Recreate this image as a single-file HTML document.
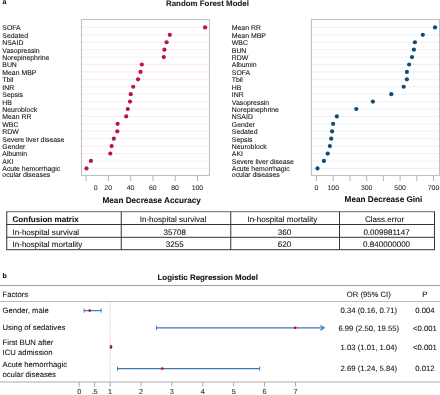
<!DOCTYPE html>
<html><head><meta charset="utf-8"><style>
html,body{margin:0;padding:0;background:#fff;}
body{width:440px;height:395px;overflow:hidden;}
svg{display:block;font-family:"Liberation Sans", sans-serif;text-rendering:geometricPrecision;filter:blur(0.3px);}
</style></head><body>
<svg width="440" height="395" viewBox="0 0 440 395">
<rect width="440" height="395" fill="#fff"/>
<text x="2.5" y="4.0" font-size="7" font-weight="700" text-anchor="start" fill="#111" stroke="#111" stroke-width="0.08">a</text>
<text x="166" y="5.8" font-size="7.9" font-weight="700" text-anchor="start" fill="#222" stroke="#222" stroke-width="0.08">Random Forest Model</text>
<line x1="82.5" y1="27.4" x2="208.5" y2="27.4" stroke="#f5dfe4" stroke-width="0.8" stroke-dasharray="3 1"/>
<line x1="82.5" y1="34.82" x2="208.5" y2="34.82" stroke="#f5dfe4" stroke-width="0.8" stroke-dasharray="3 1"/>
<line x1="82.5" y1="42.24" x2="208.5" y2="42.24" stroke="#f5dfe4" stroke-width="0.8" stroke-dasharray="3 1"/>
<line x1="82.5" y1="49.66" x2="208.5" y2="49.66" stroke="#f5dfe4" stroke-width="0.8" stroke-dasharray="3 1"/>
<line x1="82.5" y1="57.08" x2="208.5" y2="57.08" stroke="#f5dfe4" stroke-width="0.8" stroke-dasharray="3 1"/>
<line x1="82.5" y1="64.5" x2="208.5" y2="64.5" stroke="#f5dfe4" stroke-width="0.8" stroke-dasharray="3 1"/>
<line x1="82.5" y1="71.92" x2="208.5" y2="71.92" stroke="#f5dfe4" stroke-width="0.8" stroke-dasharray="3 1"/>
<line x1="82.5" y1="79.34" x2="208.5" y2="79.34" stroke="#f5dfe4" stroke-width="0.8" stroke-dasharray="3 1"/>
<line x1="82.5" y1="86.76" x2="208.5" y2="86.76" stroke="#f5dfe4" stroke-width="0.8" stroke-dasharray="3 1"/>
<line x1="82.5" y1="94.18" x2="208.5" y2="94.18" stroke="#f5dfe4" stroke-width="0.8" stroke-dasharray="3 1"/>
<line x1="82.5" y1="101.6" x2="208.5" y2="101.6" stroke="#f5dfe4" stroke-width="0.8" stroke-dasharray="3 1"/>
<line x1="82.5" y1="109.02" x2="208.5" y2="109.02" stroke="#f5dfe4" stroke-width="0.8" stroke-dasharray="3 1"/>
<line x1="82.5" y1="116.44" x2="208.5" y2="116.44" stroke="#f5dfe4" stroke-width="0.8" stroke-dasharray="3 1"/>
<line x1="82.5" y1="123.86" x2="208.5" y2="123.86" stroke="#f5dfe4" stroke-width="0.8" stroke-dasharray="3 1"/>
<line x1="82.5" y1="131.28" x2="208.5" y2="131.28" stroke="#f5dfe4" stroke-width="0.8" stroke-dasharray="3 1"/>
<line x1="82.5" y1="138.7" x2="208.5" y2="138.7" stroke="#f5dfe4" stroke-width="0.8" stroke-dasharray="3 1"/>
<line x1="82.5" y1="146.12" x2="208.5" y2="146.12" stroke="#f5dfe4" stroke-width="0.8" stroke-dasharray="3 1"/>
<line x1="82.5" y1="153.54" x2="208.5" y2="153.54" stroke="#f5dfe4" stroke-width="0.8" stroke-dasharray="3 1"/>
<line x1="82.5" y1="160.96" x2="208.5" y2="160.96" stroke="#f5dfe4" stroke-width="0.8" stroke-dasharray="3 1"/>
<line x1="82.5" y1="168.38" x2="208.5" y2="168.38" stroke="#f5dfe4" stroke-width="0.8" stroke-dasharray="3 1"/>
<rect x="81.5" y="19.5" width="128.0" height="156.0" fill="none" stroke="#c2c2c2" stroke-width="1.15"/>
<text x="2.3" y="30.3" font-size="6.9" font-weight="400" text-anchor="start" fill="#111" stroke="#111" stroke-width="0.08">SOFA</text>
<text x="2.3" y="37.72" font-size="6.9" font-weight="400" text-anchor="start" fill="#111" stroke="#111" stroke-width="0.08">Sedated</text>
<text x="2.3" y="45.14" font-size="6.9" font-weight="400" text-anchor="start" fill="#111" stroke="#111" stroke-width="0.08">NSAID</text>
<text x="2.3" y="52.56" font-size="6.9" font-weight="400" text-anchor="start" fill="#111" stroke="#111" stroke-width="0.08">Vasopressin</text>
<text x="2.3" y="59.98" font-size="6.9" font-weight="400" text-anchor="start" fill="#111" stroke="#111" stroke-width="0.08">Norepinephrine</text>
<text x="2.3" y="67.4" font-size="6.9" font-weight="400" text-anchor="start" fill="#111" stroke="#111" stroke-width="0.08">BUN</text>
<text x="2.3" y="74.82" font-size="6.9" font-weight="400" text-anchor="start" fill="#111" stroke="#111" stroke-width="0.08">Mean MBP</text>
<text x="2.3" y="82.24" font-size="6.9" font-weight="400" text-anchor="start" fill="#111" stroke="#111" stroke-width="0.08">Tbil</text>
<text x="2.3" y="89.66" font-size="6.9" font-weight="400" text-anchor="start" fill="#111" stroke="#111" stroke-width="0.08">INR</text>
<text x="2.3" y="97.08" font-size="6.9" font-weight="400" text-anchor="start" fill="#111" stroke="#111" stroke-width="0.08">Sepsis</text>
<text x="2.3" y="104.5" font-size="6.9" font-weight="400" text-anchor="start" fill="#111" stroke="#111" stroke-width="0.08">HB</text>
<text x="2.3" y="111.92" font-size="6.9" font-weight="400" text-anchor="start" fill="#111" stroke="#111" stroke-width="0.08">Neuroblock</text>
<text x="2.3" y="119.34" font-size="6.9" font-weight="400" text-anchor="start" fill="#111" stroke="#111" stroke-width="0.08">Mean RR</text>
<text x="2.3" y="126.76" font-size="6.9" font-weight="400" text-anchor="start" fill="#111" stroke="#111" stroke-width="0.08">WBC</text>
<text x="2.3" y="134.18" font-size="6.9" font-weight="400" text-anchor="start" fill="#111" stroke="#111" stroke-width="0.08">RDW</text>
<text x="2.3" y="141.6" font-size="6.9" font-weight="400" text-anchor="start" fill="#111" stroke="#111" stroke-width="0.08">Severe liver disease</text>
<text x="2.3" y="149.02" font-size="6.9" font-weight="400" text-anchor="start" fill="#111" stroke="#111" stroke-width="0.08">Gender</text>
<text x="2.3" y="156.44" font-size="6.9" font-weight="400" text-anchor="start" fill="#111" stroke="#111" stroke-width="0.08">Albumin</text>
<text x="2.3" y="163.86" font-size="6.9" font-weight="400" text-anchor="start" fill="#111" stroke="#111" stroke-width="0.08">AKI</text>
<text x="2.3" y="171.48" font-size="6.9" font-weight="400" text-anchor="start" fill="#111" stroke="#111" stroke-width="0.08">Acute hemorrhagic</text>
<text x="2.3" y="177.08" font-size="6.9" font-weight="400" text-anchor="start" fill="#111" stroke="#111" stroke-width="0.08">ocular diseases</text>
<circle cx="205.1" cy="27.4" r="2.1" fill="#b8163c"/>
<circle cx="169.8" cy="34.82" r="2.1" fill="#b8163c"/>
<circle cx="166.6" cy="42.24" r="2.1" fill="#b8163c"/>
<circle cx="164.4" cy="49.66" r="2.1" fill="#b8163c"/>
<circle cx="163.8" cy="57.08" r="2.1" fill="#b8163c"/>
<circle cx="141.8" cy="64.5" r="2.1" fill="#b8163c"/>
<circle cx="140.5" cy="71.92" r="2.1" fill="#b8163c"/>
<circle cx="138.0" cy="79.34" r="2.1" fill="#b8163c"/>
<circle cx="133.2" cy="86.76" r="2.1" fill="#b8163c"/>
<circle cx="130.7" cy="94.18" r="2.1" fill="#b8163c"/>
<circle cx="130.0" cy="101.6" r="2.1" fill="#b8163c"/>
<circle cx="127.8" cy="109.02" r="2.1" fill="#b8163c"/>
<circle cx="126.2" cy="116.44" r="2.1" fill="#b8163c"/>
<circle cx="117.6" cy="123.86" r="2.1" fill="#b8163c"/>
<circle cx="117.3" cy="131.28" r="2.1" fill="#b8163c"/>
<circle cx="113.8" cy="138.7" r="2.1" fill="#b8163c"/>
<circle cx="111.6" cy="146.12" r="2.1" fill="#b8163c"/>
<circle cx="110.3" cy="153.54" r="2.1" fill="#b8163c"/>
<circle cx="90.9" cy="160.96" r="2.1" fill="#b8163c"/>
<circle cx="86.5" cy="168.38" r="2.1" fill="#b8163c"/>
<line x1="312.5" y1="27.4" x2="438.5" y2="27.4" stroke="#dfe7ed" stroke-width="0.8" stroke-dasharray="3 1"/>
<line x1="312.5" y1="34.82" x2="438.5" y2="34.82" stroke="#dfe7ed" stroke-width="0.8" stroke-dasharray="3 1"/>
<line x1="312.5" y1="42.24" x2="438.5" y2="42.24" stroke="#dfe7ed" stroke-width="0.8" stroke-dasharray="3 1"/>
<line x1="312.5" y1="49.66" x2="438.5" y2="49.66" stroke="#dfe7ed" stroke-width="0.8" stroke-dasharray="3 1"/>
<line x1="312.5" y1="57.08" x2="438.5" y2="57.08" stroke="#dfe7ed" stroke-width="0.8" stroke-dasharray="3 1"/>
<line x1="312.5" y1="64.5" x2="438.5" y2="64.5" stroke="#dfe7ed" stroke-width="0.8" stroke-dasharray="3 1"/>
<line x1="312.5" y1="71.92" x2="438.5" y2="71.92" stroke="#dfe7ed" stroke-width="0.8" stroke-dasharray="3 1"/>
<line x1="312.5" y1="79.34" x2="438.5" y2="79.34" stroke="#dfe7ed" stroke-width="0.8" stroke-dasharray="3 1"/>
<line x1="312.5" y1="86.76" x2="438.5" y2="86.76" stroke="#dfe7ed" stroke-width="0.8" stroke-dasharray="3 1"/>
<line x1="312.5" y1="94.18" x2="438.5" y2="94.18" stroke="#dfe7ed" stroke-width="0.8" stroke-dasharray="3 1"/>
<line x1="312.5" y1="101.6" x2="438.5" y2="101.6" stroke="#dfe7ed" stroke-width="0.8" stroke-dasharray="3 1"/>
<line x1="312.5" y1="109.02" x2="438.5" y2="109.02" stroke="#dfe7ed" stroke-width="0.8" stroke-dasharray="3 1"/>
<line x1="312.5" y1="116.44" x2="438.5" y2="116.44" stroke="#dfe7ed" stroke-width="0.8" stroke-dasharray="3 1"/>
<line x1="312.5" y1="123.86" x2="438.5" y2="123.86" stroke="#dfe7ed" stroke-width="0.8" stroke-dasharray="3 1"/>
<line x1="312.5" y1="131.28" x2="438.5" y2="131.28" stroke="#dfe7ed" stroke-width="0.8" stroke-dasharray="3 1"/>
<line x1="312.5" y1="138.7" x2="438.5" y2="138.7" stroke="#dfe7ed" stroke-width="0.8" stroke-dasharray="3 1"/>
<line x1="312.5" y1="146.12" x2="438.5" y2="146.12" stroke="#dfe7ed" stroke-width="0.8" stroke-dasharray="3 1"/>
<line x1="312.5" y1="153.54" x2="438.5" y2="153.54" stroke="#dfe7ed" stroke-width="0.8" stroke-dasharray="3 1"/>
<line x1="312.5" y1="160.96" x2="438.5" y2="160.96" stroke="#dfe7ed" stroke-width="0.8" stroke-dasharray="3 1"/>
<line x1="312.5" y1="168.38" x2="438.5" y2="168.38" stroke="#dfe7ed" stroke-width="0.8" stroke-dasharray="3 1"/>
<rect x="311.5" y="19.5" width="128.0" height="156.0" fill="none" stroke="#c2c2c2" stroke-width="1.15"/>
<text x="231.8" y="30.3" font-size="6.9" font-weight="400" text-anchor="start" fill="#111" stroke="#111" stroke-width="0.08">Mean RR</text>
<text x="231.8" y="37.72" font-size="6.9" font-weight="400" text-anchor="start" fill="#111" stroke="#111" stroke-width="0.08">Mean MBP</text>
<text x="231.8" y="45.14" font-size="6.9" font-weight="400" text-anchor="start" fill="#111" stroke="#111" stroke-width="0.08">WBC</text>
<text x="231.8" y="52.56" font-size="6.9" font-weight="400" text-anchor="start" fill="#111" stroke="#111" stroke-width="0.08">BUN</text>
<text x="231.8" y="59.98" font-size="6.9" font-weight="400" text-anchor="start" fill="#111" stroke="#111" stroke-width="0.08">RDW</text>
<text x="231.8" y="67.4" font-size="6.9" font-weight="400" text-anchor="start" fill="#111" stroke="#111" stroke-width="0.08">Albumin</text>
<text x="231.8" y="74.82" font-size="6.9" font-weight="400" text-anchor="start" fill="#111" stroke="#111" stroke-width="0.08">SOFA</text>
<text x="231.8" y="82.24" font-size="6.9" font-weight="400" text-anchor="start" fill="#111" stroke="#111" stroke-width="0.08">Tbil</text>
<text x="231.8" y="89.66" font-size="6.9" font-weight="400" text-anchor="start" fill="#111" stroke="#111" stroke-width="0.08">HB</text>
<text x="231.8" y="97.08" font-size="6.9" font-weight="400" text-anchor="start" fill="#111" stroke="#111" stroke-width="0.08">INR</text>
<text x="231.8" y="104.5" font-size="6.9" font-weight="400" text-anchor="start" fill="#111" stroke="#111" stroke-width="0.08">Vasopressin</text>
<text x="231.8" y="111.92" font-size="6.9" font-weight="400" text-anchor="start" fill="#111" stroke="#111" stroke-width="0.08">Norepinephrine</text>
<text x="231.8" y="119.34" font-size="6.9" font-weight="400" text-anchor="start" fill="#111" stroke="#111" stroke-width="0.08">NSAID</text>
<text x="231.8" y="126.76" font-size="6.9" font-weight="400" text-anchor="start" fill="#111" stroke="#111" stroke-width="0.08">Gender</text>
<text x="231.8" y="134.18" font-size="6.9" font-weight="400" text-anchor="start" fill="#111" stroke="#111" stroke-width="0.08">Sedated</text>
<text x="231.8" y="141.6" font-size="6.9" font-weight="400" text-anchor="start" fill="#111" stroke="#111" stroke-width="0.08">Sepsis</text>
<text x="231.8" y="149.02" font-size="6.9" font-weight="400" text-anchor="start" fill="#111" stroke="#111" stroke-width="0.08">Neuroblock</text>
<text x="231.8" y="156.44" font-size="6.9" font-weight="400" text-anchor="start" fill="#111" stroke="#111" stroke-width="0.08">AKI</text>
<text x="231.8" y="163.86" font-size="6.9" font-weight="400" text-anchor="start" fill="#111" stroke="#111" stroke-width="0.08">Severe liver disease</text>
<text x="231.8" y="171.48" font-size="6.9" font-weight="400" text-anchor="start" fill="#111" stroke="#111" stroke-width="0.08">Acute hemorrhagic</text>
<text x="231.8" y="177.08" font-size="6.9" font-weight="400" text-anchor="start" fill="#111" stroke="#111" stroke-width="0.08">ocular diseases</text>
<circle cx="435.0" cy="27.4" r="2.1" fill="#0f4c72"/>
<circle cx="422.8" cy="34.82" r="2.1" fill="#0f4c72"/>
<circle cx="414.9" cy="42.24" r="2.1" fill="#0f4c72"/>
<circle cx="413.9" cy="49.66" r="2.1" fill="#0f4c72"/>
<circle cx="412.0" cy="57.08" r="2.1" fill="#0f4c72"/>
<circle cx="409.1" cy="64.5" r="2.1" fill="#0f4c72"/>
<circle cx="406.9" cy="71.92" r="2.1" fill="#0f4c72"/>
<circle cx="406.9" cy="79.34" r="2.1" fill="#0f4c72"/>
<circle cx="403.7" cy="86.76" r="2.1" fill="#0f4c72"/>
<circle cx="391.3" cy="94.18" r="2.1" fill="#0f4c72"/>
<circle cx="372.9" cy="101.6" r="2.1" fill="#0f4c72"/>
<circle cx="356.3" cy="109.02" r="2.1" fill="#0f4c72"/>
<circle cx="336.9" cy="116.44" r="2.1" fill="#0f4c72"/>
<circle cx="333.1" cy="123.86" r="2.1" fill="#0f4c72"/>
<circle cx="332.1" cy="131.28" r="2.1" fill="#0f4c72"/>
<circle cx="331.2" cy="138.7" r="2.1" fill="#0f4c72"/>
<circle cx="329.9" cy="146.12" r="2.1" fill="#0f4c72"/>
<circle cx="327.7" cy="153.54" r="2.1" fill="#0f4c72"/>
<circle cx="323.9" cy="160.96" r="2.1" fill="#0f4c72"/>
<circle cx="317.5" cy="168.38" r="2.1" fill="#0f4c72"/>
<line x1="86.1" y1="176" x2="86.1" y2="181" stroke="#b4b4b4" stroke-width="1" />
<line x1="108.4" y1="176" x2="108.4" y2="181" stroke="#b4b4b4" stroke-width="1" />
<line x1="130.7" y1="176" x2="130.7" y2="181" stroke="#b4b4b4" stroke-width="1" />
<line x1="153.0" y1="176" x2="153.0" y2="181" stroke="#b4b4b4" stroke-width="1" />
<line x1="175.3" y1="176" x2="175.3" y2="181" stroke="#b4b4b4" stroke-width="1" />
<line x1="197.6" y1="176" x2="197.6" y2="181" stroke="#b4b4b4" stroke-width="1" />
<text x="95.6" y="190" font-size="6.9" font-weight="400" text-anchor="middle" fill="#333" stroke="#333" stroke-width="0.08">0</text>
<text x="108.2" y="190" font-size="6.9" font-weight="400" text-anchor="middle" fill="#333" stroke="#333" stroke-width="0.08">20</text>
<text x="130.5" y="190" font-size="6.9" font-weight="400" text-anchor="middle" fill="#333" stroke="#333" stroke-width="0.08">40</text>
<text x="152.8" y="190" font-size="6.9" font-weight="400" text-anchor="middle" fill="#333" stroke="#333" stroke-width="0.08">60</text>
<text x="175.1" y="190" font-size="6.9" font-weight="400" text-anchor="middle" fill="#333" stroke="#333" stroke-width="0.08">80</text>
<text x="197.4" y="190" font-size="6.9" font-weight="400" text-anchor="middle" fill="#333" stroke="#333" stroke-width="0.08">100</text>
<text x="151.7" y="203.0" font-size="8.2" font-weight="700" text-anchor="middle" fill="#111" stroke="#111" stroke-width="0.08">Mean Decrease Accuracy</text>
<line x1="316.5" y1="176" x2="316.5" y2="181" stroke="#b4b4b4" stroke-width="1" />
<line x1="333.22" y1="176" x2="333.22" y2="181" stroke="#b4b4b4" stroke-width="1" />
<line x1="349.94" y1="176" x2="349.94" y2="181" stroke="#b4b4b4" stroke-width="1" />
<line x1="366.66" y1="176" x2="366.66" y2="181" stroke="#b4b4b4" stroke-width="1" />
<line x1="383.38" y1="176" x2="383.38" y2="181" stroke="#b4b4b4" stroke-width="1" />
<line x1="400.1" y1="176" x2="400.1" y2="181" stroke="#b4b4b4" stroke-width="1" />
<line x1="416.82" y1="176" x2="416.82" y2="181" stroke="#b4b4b4" stroke-width="1" />
<line x1="433.54" y1="176" x2="433.54" y2="181" stroke="#b4b4b4" stroke-width="1" />
<text x="316.5" y="190" font-size="6.9" font-weight="400" text-anchor="middle" fill="#333" stroke="#333" stroke-width="0.08">0</text>
<text x="333.22" y="190" font-size="6.9" font-weight="400" text-anchor="middle" fill="#333" stroke="#333" stroke-width="0.08">100</text>
<text x="366.66" y="190" font-size="6.9" font-weight="400" text-anchor="middle" fill="#333" stroke="#333" stroke-width="0.08">300</text>
<text x="400.1" y="190" font-size="6.9" font-weight="400" text-anchor="middle" fill="#333" stroke="#333" stroke-width="0.08">500</text>
<text x="433.54" y="190" font-size="6.9" font-weight="400" text-anchor="middle" fill="#333" stroke="#333" stroke-width="0.08">700</text>
<text x="383.5" y="202.3" font-size="8.2" font-weight="700" text-anchor="middle" fill="#111" stroke="#111" stroke-width="0.08">Mean Decrease Gini</text>
<line x1="6.25" y1="211.7" x2="435.0" y2="211.7" stroke="#888" stroke-width="1.3" />
<line x1="6.25" y1="224.5" x2="435.0" y2="224.5" stroke="#333" stroke-width="1" />
<line x1="6.25" y1="237.3" x2="435.0" y2="237.3" stroke="#333" stroke-width="1" />
<line x1="6.25" y1="249.7" x2="435.0" y2="249.7" stroke="#333" stroke-width="1" />
<line x1="6.75" y1="211.7" x2="6.75" y2="249.7" stroke="#333" stroke-width="1" />
<line x1="121.25" y1="211.7" x2="121.25" y2="249.7" stroke="#333" stroke-width="1" />
<line x1="230.75" y1="211.7" x2="230.75" y2="249.7" stroke="#333" stroke-width="1" />
<line x1="339.5" y1="211.7" x2="339.5" y2="249.7" stroke="#333" stroke-width="1" />
<line x1="434.5" y1="211.7" x2="434.5" y2="249.7" stroke="#333" stroke-width="1" />
<text x="12.5" y="222.3" font-size="8.05" font-weight="700" text-anchor="start" fill="#111" stroke="#111" stroke-width="0.08">Confusion matrix</text>
<text x="173" y="222.3" font-size="8.05" font-weight="400" text-anchor="middle" fill="#111" stroke="#111" stroke-width="0.08">In-hospital survival</text>
<text x="282.3" y="222.3" font-size="8.05" font-weight="400" text-anchor="middle" fill="#111" stroke="#111" stroke-width="0.08">In-hospital mortality</text>
<text x="384.6" y="222.3" font-size="8.05" font-weight="400" text-anchor="middle" fill="#111" stroke="#111" stroke-width="0.08">Class.error</text>
<text x="12.5" y="234.6" font-size="8.05" font-weight="400" text-anchor="start" fill="#111" stroke="#111" stroke-width="0.08">In-hospital survival</text>
<text x="174.7" y="234.6" font-size="8.05" font-weight="400" text-anchor="middle" fill="#111" stroke="#111" stroke-width="0.08">35708</text>
<text x="284.5" y="234.6" font-size="8.05" font-weight="400" text-anchor="middle" fill="#111" stroke="#111" stroke-width="0.08">360</text>
<text x="386.6" y="234.6" font-size="8.05" font-weight="400" text-anchor="middle" fill="#111" stroke="#111" stroke-width="0.08">0.009981147</text>
<text x="12.5" y="247.1" font-size="8.05" font-weight="400" text-anchor="start" fill="#111" stroke="#111" stroke-width="0.08">In-hospital mortality</text>
<text x="174.7" y="247.1" font-size="8.05" font-weight="400" text-anchor="middle" fill="#111" stroke="#111" stroke-width="0.08">3255</text>
<text x="284.5" y="247.1" font-size="8.05" font-weight="400" text-anchor="middle" fill="#111" stroke="#111" stroke-width="0.08">620</text>
<text x="386.6" y="247.1" font-size="8.05" font-weight="400" text-anchor="middle" fill="#111" stroke="#111" stroke-width="0.08">0.840000000</text>
<text x="2.5" y="278.3" font-size="7" font-weight="700" text-anchor="start" fill="#111" stroke="#111" stroke-width="0.08">b</text>
<text x="157.5" y="280.2" font-size="7.9" font-weight="700" text-anchor="start" fill="#111" stroke="#111" stroke-width="0.08">Logistic Regression Model</text>
<line x1="0" y1="285.5" x2="440" y2="285.5" stroke="#a0a0a0" stroke-width="1" />
<text x="2.5" y="297.0" font-size="7.7" font-weight="400" text-anchor="start" fill="#111" stroke="#111" stroke-width="0.08">Factors</text>
<text x="368.8" y="297.0" font-size="7.7" font-weight="400" text-anchor="middle" fill="#111" stroke="#111" stroke-width="0.08">OR (95% CI)</text>
<text x="424.9" y="297.0" font-size="7.7" font-weight="400" text-anchor="middle" fill="#111" stroke="#111" stroke-width="0.08">P</text>
<line x1="0" y1="301.5" x2="440" y2="301.5" stroke="#bbb" stroke-width="1" />
<line x1="0" y1="382" x2="440" y2="382" stroke="#aaa" stroke-width="1" />
<line x1="110.1" y1="301.5" x2="110.1" y2="382" stroke="#d0d0d0" stroke-width="1" stroke-dasharray="1.5 0.8"/>
<text x="2.5" y="313.4" font-size="7.7" font-weight="400" text-anchor="start" fill="#111" stroke="#111" stroke-width="0.08">Gender, male</text>
<line x1="84.14" y1="310.6" x2="101.14" y2="310.6" stroke="#3a78ba" stroke-width="1.2" />
<line x1="84.14" y1="308.6" x2="84.14" y2="312.6" stroke="#3a78ba" stroke-width="1" />
<line x1="101.14" y1="308.6" x2="101.14" y2="312.6" stroke="#3a78ba" stroke-width="1" />
<circle cx="89.71" cy="310.6" r="1.4" fill="#c0102a"/>
<text x="368.8" y="313.4" font-size="7.7" font-weight="400" text-anchor="middle" fill="#111" stroke="#111" stroke-width="0.08">0.34 (0.16, 0.71)</text>
<text x="424.9" y="313.4" font-size="7.7" font-weight="400" text-anchor="middle" fill="#111" stroke="#111" stroke-width="0.08">0.004</text>
<text x="2.5" y="330.0" font-size="7.7" font-weight="400" text-anchor="start" fill="#111" stroke="#111" stroke-width="0.08">Using of sedatives</text>
<line x1="156.45" y1="327.8" x2="323.2" y2="327.8" stroke="#3a78ba" stroke-width="1.2" />
<path d="M320.4,325.40000000000003 L324.2,327.8 L320.4,330.2" fill="none" stroke="#3a78ba" stroke-width="1.2"/>
<line x1="156.45" y1="325.8" x2="156.45" y2="329.8" stroke="#3a78ba" stroke-width="1" />
<circle cx="295.19" cy="327.8" r="1.4" fill="#c0102a"/>
<text x="368.8" y="330.6" font-size="7.7" font-weight="400" text-anchor="middle" fill="#111" stroke="#111" stroke-width="0.08">6.99 (2.50, 19.55)</text>
<text x="424.9" y="330.6" font-size="7.7" font-weight="400" text-anchor="middle" fill="#111" stroke="#111" stroke-width="0.08">&lt;0.001</text>
<text x="2.5" y="345.0" font-size="7.7" font-weight="400" text-anchor="start" fill="#111" stroke="#111" stroke-width="0.08">First BUN after</text>
<text x="2.5" y="354.6" font-size="7.7" font-weight="400" text-anchor="start" fill="#111" stroke="#111" stroke-width="0.08">ICU admission</text>
<line x1="110.41" y1="346.9" x2="111.34" y2="346.9" stroke="#3a78ba" stroke-width="1.2" />
<line x1="110.41" y1="344.9" x2="110.41" y2="348.9" stroke="#3a78ba" stroke-width="1" />
<line x1="111.34" y1="344.9" x2="111.34" y2="348.9" stroke="#3a78ba" stroke-width="1" />
<circle cx="111.03" cy="346.9" r="1.4" fill="#c0102a"/>
<text x="368.8" y="349.7" font-size="7.7" font-weight="400" text-anchor="middle" fill="#111" stroke="#111" stroke-width="0.08">1.03 (1.01, 1.04)</text>
<text x="424.9" y="349.7" font-size="7.7" font-weight="400" text-anchor="middle" fill="#111" stroke="#111" stroke-width="0.08">&lt;0.001</text>
<text x="2.5" y="367.45" font-size="7.7" font-weight="400" text-anchor="start" fill="#111" stroke="#111" stroke-width="0.08">Acute hemorrhagic</text>
<text x="2.5" y="377.05" font-size="7.7" font-weight="400" text-anchor="start" fill="#111" stroke="#111" stroke-width="0.08">ocular diseases</text>
<line x1="117.52" y1="368.6" x2="259.66" y2="368.6" stroke="#3a78ba" stroke-width="1.2" />
<line x1="117.52" y1="366.6" x2="117.52" y2="370.6" stroke="#3a78ba" stroke-width="1" />
<line x1="259.66" y1="366.6" x2="259.66" y2="370.6" stroke="#3a78ba" stroke-width="1" />
<circle cx="162.32" cy="368.6" r="1.4" fill="#c0102a"/>
<text x="368.8" y="371.4" font-size="7.7" font-weight="400" text-anchor="middle" fill="#111" stroke="#111" stroke-width="0.08">2.69 (1.24, 5.84)</text>
<text x="424.9" y="371.4" font-size="7.7" font-weight="400" text-anchor="middle" fill="#111" stroke="#111" stroke-width="0.08">0.012</text>
<line x1="79.2" y1="382" x2="79.2" y2="386.5" stroke="#aaa" stroke-width="1" />
<text x="79.2" y="394.3" font-size="7.3" font-weight="400" text-anchor="middle" fill="#333" stroke="#333" stroke-width="0.08">0</text>
<line x1="94.65" y1="382" x2="94.65" y2="386.5" stroke="#aaa" stroke-width="1" />
<text x="94.65" y="394.3" font-size="7.3" font-weight="400" text-anchor="middle" fill="#333" stroke="#333" stroke-width="0.08">.5</text>
<line x1="110.1" y1="382" x2="110.1" y2="386.5" stroke="#aaa" stroke-width="1" />
<text x="110.1" y="394.3" font-size="7.3" font-weight="400" text-anchor="middle" fill="#333" stroke="#333" stroke-width="0.08">1</text>
<line x1="141.0" y1="382" x2="141.0" y2="386.5" stroke="#aaa" stroke-width="1" />
<text x="141.0" y="394.3" font-size="7.3" font-weight="400" text-anchor="middle" fill="#333" stroke="#333" stroke-width="0.08">2</text>
<line x1="171.9" y1="382" x2="171.9" y2="386.5" stroke="#aaa" stroke-width="1" />
<text x="171.9" y="394.3" font-size="7.3" font-weight="400" text-anchor="middle" fill="#333" stroke="#333" stroke-width="0.08">3</text>
<line x1="202.8" y1="382" x2="202.8" y2="386.5" stroke="#aaa" stroke-width="1" />
<text x="202.8" y="394.3" font-size="7.3" font-weight="400" text-anchor="middle" fill="#333" stroke="#333" stroke-width="0.08">4</text>
<line x1="233.7" y1="382" x2="233.7" y2="386.5" stroke="#aaa" stroke-width="1" />
<text x="233.7" y="394.3" font-size="7.3" font-weight="400" text-anchor="middle" fill="#333" stroke="#333" stroke-width="0.08">5</text>
<line x1="264.6" y1="382" x2="264.6" y2="386.5" stroke="#aaa" stroke-width="1" />
<text x="264.6" y="394.3" font-size="7.3" font-weight="400" text-anchor="middle" fill="#333" stroke="#333" stroke-width="0.08">6</text>
<line x1="295.5" y1="382" x2="295.5" y2="386.5" stroke="#aaa" stroke-width="1" />
<text x="295.5" y="394.3" font-size="7.3" font-weight="400" text-anchor="middle" fill="#333" stroke="#333" stroke-width="0.08">7</text>
</svg>
</body></html>
